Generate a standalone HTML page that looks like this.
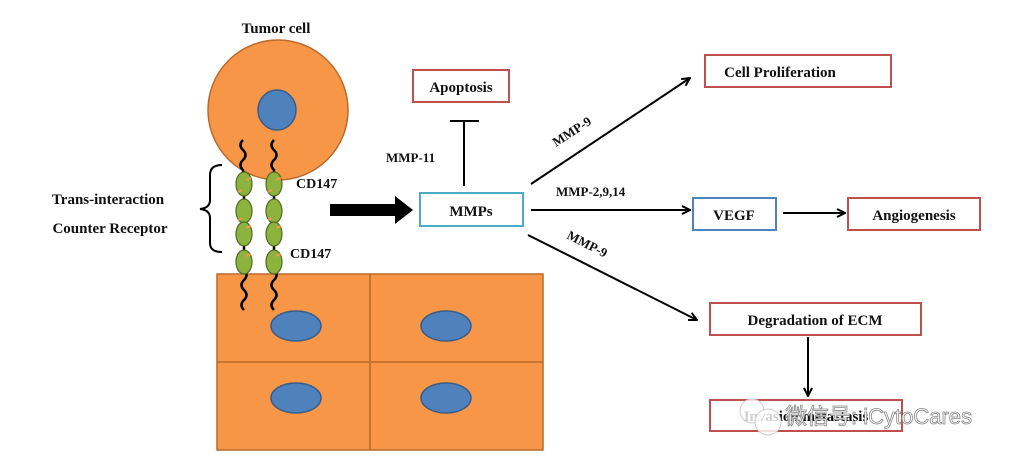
<!DOCTYPE html>
<html><head><meta charset="utf-8"><style>
body{margin:0;background:#fff;}
svg{display:block;}
text{font-family:"Liberation Serif",serif;font-weight:bold;fill:#111;}
</style></head><body>
<svg width="1034" height="464" viewBox="0 0 1034 464" xmlns="http://www.w3.org/2000/svg">
<defs>
<marker id="ah" markerWidth="10" markerHeight="10" refX="9" refY="5" orient="auto" markerUnits="userSpaceOnUse">
<path d="M1,1 L9,5 L1,9" fill="none" stroke="#000" stroke-width="2"/>
</marker>
</defs>
<text x="276" y="33" font-size="15" text-anchor="middle">Tumor cell</text>
<ellipse cx="278" cy="110" rx="70" ry="70" fill="#f79646" stroke="#b96a2c" stroke-width="1.5"/>
<ellipse cx="277" cy="110" rx="19" ry="20" fill="#4f81bd" stroke="#385d8a" stroke-width="1.5"/>
<!-- grid -->
<rect x="217" y="274" width="326" height="176" fill="#f79646" stroke="#b96a2c" stroke-width="1.5"/>
<line x1="370" y1="274" x2="370" y2="450" stroke="#b96a2c" stroke-width="1.5"/>
<line x1="217" y1="362" x2="543" y2="362" stroke="#b96a2c" stroke-width="1.5"/>
<g fill="#4f81bd" stroke="#385d8a" stroke-width="1.5">
<ellipse cx="296" cy="326" rx="25" ry="15"/><ellipse cx="446" cy="326" rx="25" ry="15"/>
<ellipse cx="296" cy="398" rx="25" ry="15"/><ellipse cx="446" cy="398" rx="25" ry="15"/>
</g>
<!-- chains -->
<g fill="none" stroke="#000" stroke-width="2.5">
<path d="M243,140 q-5,5 0,10 q5,5 0,10 q-5,5 0,10 l0,12"/>
<path d="M274,140 q-5,5 0,10 q5,5 0,10 q-5,5 0,10 l0,12"/>
<path d="M244,185 L244,262"/><path d="M274,185 L274,262"/>
<path d="M244,270 q5,5 0,10 q-5,5 0,10 q5,5 0,10 q-5,5 0,10"/>
<path d="M274,270 q5,5 0,10 q-5,5 0,10 q5,5 0,10 q-5,5 0,10"/>
</g>
<g fill="#8db33f" stroke="#4f6b22" stroke-width="1.2">
<ellipse cx="244" cy="184" rx="8" ry="12"/><ellipse cx="274" cy="184" rx="8" ry="12"/>
<ellipse cx="244" cy="211" rx="8" ry="12"/><ellipse cx="274" cy="211" rx="8" ry="12"/>
<ellipse cx="244" cy="234" rx="8" ry="12"/><ellipse cx="274" cy="234" rx="8" ry="12"/>
<ellipse cx="244" cy="262" rx="8" ry="12"/><ellipse cx="274" cy="262" rx="8" ry="12"/>
</g>
<g stroke="#f79646" stroke-width="2">
<line x1="246" y1="180" x2="251" y2="178"/><line x1="276" y1="180" x2="281" y2="178"/>
<line x1="238" y1="192" x2="242" y2="190"/><line x1="268" y1="192" x2="272" y2="190"/>
<line x1="238" y1="220" x2="242" y2="218"/><line x1="268" y1="220" x2="272" y2="218"/>
<line x1="246" y1="228" x2="251" y2="226"/><line x1="276" y1="228" x2="281" y2="226"/>
<line x1="246" y1="256" x2="251" y2="254"/><line x1="276" y1="256" x2="281" y2="254"/>
</g>
<text x="296" y="188" font-size="14">CD147</text>
<text x="290" y="258" font-size="14">CD147</text>
<!-- brace -->
<path d="M222,165 q-12,0 -12,10 l0,25 q0,8 -10,9 q10,1 10,9 l0,25 q0,9 12,9" fill="none" stroke="#000" stroke-width="2"/>
<text x="108" y="204" font-size="15" text-anchor="middle">Trans-interaction</text>
<text x="110" y="233" font-size="15" text-anchor="middle">Counter Receptor</text>
<!-- big arrow -->
<rect x="330" y="204" width="66" height="12" fill="#000"/>
<polygon points="395,196 413,210 395,224" fill="#000"/>
<!-- MMPs -->
<rect x="420" y="193" width="103" height="33" fill="#fff" stroke="#4bacc6" stroke-width="2"/>
<text x="471" y="216" font-size="15" text-anchor="middle">MMPs</text>
<!-- apoptosis -->
<rect x="413" y="70" width="96" height="32" fill="#fff" stroke="#c0504d" stroke-width="2"/>
<text x="461" y="92" font-size="15" text-anchor="middle">Apoptosis</text>
<line x1="464" y1="121" x2="464" y2="186" stroke="#000" stroke-width="2"/>
<line x1="450" y1="121" x2="479" y2="121" stroke="#000" stroke-width="2"/>
<text x="386" y="162" font-size="13">MMP-11</text>
<!-- arrows -->
<g stroke="#000" stroke-width="2" marker-end="url(#ah)">
<line x1="531" y1="184" x2="690" y2="78"/>
<line x1="531" y1="210" x2="690" y2="210"/>
<line x1="528" y1="235" x2="697" y2="320"/>
<line x1="783" y1="213" x2="845" y2="213"/>
<line x1="808" y1="337" x2="808" y2="396"/>
</g>
<text x="0" y="0" font-size="13" transform="translate(556,147) rotate(-33)">MMP-9</text>
<text x="556" y="196" font-size="13">MMP-2,9,14</text>
<text x="0" y="0" font-size="13" transform="translate(566,238) rotate(27)">MMP-9</text>
<!-- right boxes -->
<rect x="705" y="55" width="186" height="32" fill="#fff" stroke="#c0504d" stroke-width="2"/>
<text x="780" y="77" font-size="15" text-anchor="middle">Cell Proliferation</text>
<rect x="693" y="198" width="83" height="32" fill="#fff" stroke="#4f81bd" stroke-width="2"/>
<text x="734" y="220" font-size="15" text-anchor="middle">VEGF</text>
<rect x="848" y="198" width="132" height="32" fill="#fff" stroke="#c0504d" stroke-width="2"/>
<text x="914" y="220" font-size="15" text-anchor="middle">Angiogenesis</text>
<rect x="710" y="303" width="211" height="32" fill="#fff" stroke="#c0504d" stroke-width="2"/>
<text x="815" y="325" font-size="15" text-anchor="middle">Degradation of ECM</text>
<rect x="710" y="400" width="192" height="31" fill="#fff" stroke="#c0504d" stroke-width="2"/>
<text x="806" y="421" font-size="15" text-anchor="middle">Invasion metastasis</text>
<!-- watermark -->
<circle cx="752" cy="411" r="12" fill="#fff" fill-opacity="0.8" stroke="#ccc"/>
<circle cx="768" cy="422" r="13" fill="#fff" fill-opacity="0.8" stroke="#ccc"/>
<text x="785" y="424" font-size="22" style="font-family:'Liberation Sans','Noto Sans CJK SC',sans-serif;font-weight:normal;fill:#fff;stroke:#888;stroke-width:0.8">微信号: iCytoCares</text>
</svg>
</body></html>
